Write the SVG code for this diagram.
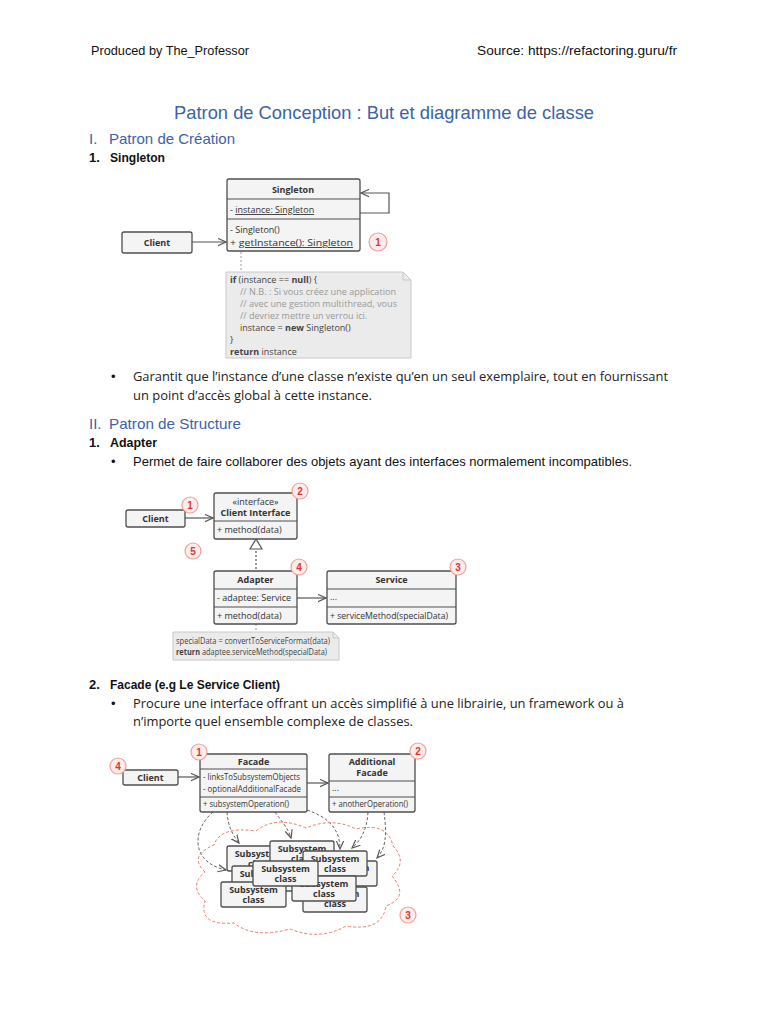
<svg xmlns="http://www.w3.org/2000/svg" width="768" height="1024" viewBox="0 0 768 1024">
<style>
.doc{font-family:"Liberation Sans",Arial,sans-serif;fill:#111}
.body{font-family:"Open Sans","Noto Sans",sans-serif;font-size:13px;fill:#222}
.blue{font-family:"Liberation Sans",Arial,sans-serif;fill:#3B63A8}
.b{font-weight:bold}
.box{fill:#f4f4f4;stroke:#4f4f4f;stroke-width:1.3}
.div{stroke:#4f4f4f;stroke-width:1.1}
.t{font-family:"Open Sans","Noto Sans",sans-serif;font-size:9px;fill:#333}
.th{font-family:"Open Sans","Noto Sans",sans-serif;font-size:9px;font-weight:bold;fill:#333}
.note{fill:#ebebeb;stroke:#c8c8c8;stroke-width:1}
.nt{font-family:"Open Sans","Noto Sans",sans-serif;font-size:9px;fill:#444}
.cm{fill:#999}
.con{fill:none;stroke:#555;stroke-width:1.2}
.dash{fill:none;stroke:#666;stroke-width:1;stroke-dasharray:3,2}
.dot{fill:none;stroke:#999;stroke-width:1;stroke-dasharray:2,2}
.badge circle{fill:#fdeceb;stroke:#f0a095;stroke-width:1.2}
.badge text{font-family:"Liberation Sans",Arial,sans-serif;font-size:10px;font-weight:bold;fill:#d63a2e;text-anchor:middle}
</style>
<defs>
<marker id="open" viewBox="0 0 10 10" refX="9" refY="5" markerWidth="9" markerHeight="9" markerUnits="userSpaceOnUse" orient="auto">
<path d="M0,1 L9,5 L0,9" fill="none" stroke="#555" stroke-width="1.3"/>
</marker>
</defs>
<rect width="768" height="1024" fill="#ffffff"/>

<!-- page text -->
<g id="page-text">
<text class="doc" x="91" y="55" font-size="13" textLength="158" lengthAdjust="spacingAndGlyphs">Produced by The_Professor</text>
<text class="doc" x="477" y="55" font-size="13" textLength="200" lengthAdjust="spacingAndGlyphs">Source: https://refactoring.guru/fr</text>
<text class="blue" x="174" y="119" font-size="19" textLength="420" lengthAdjust="spacingAndGlyphs">Patron de Conception : But et diagramme de classe</text>
<text class="blue" x="89" y="144" font-size="15">I.</text>
<text class="blue" x="109" y="144" font-size="15" textLength="126" lengthAdjust="spacingAndGlyphs">Patron de Création</text>
<text class="doc b" x="89" y="162" font-size="13">1.</text>
<text class="doc b" x="110" y="162" font-size="13" textLength="55" lengthAdjust="spacingAndGlyphs">Singleton</text>
<text class="doc" x="111" y="381" font-size="13">•</text>
<text class="body" x="133" y="381" textLength="535" lengthAdjust="spacingAndGlyphs">Garantit que l’instance d’une classe n’existe qu’en un seul exemplaire, tout en fournissant</text>
<text class="body" x="133" y="400" textLength="239" lengthAdjust="spacingAndGlyphs">un point d’accès global à cette instance.</text>
<text class="blue" x="89" y="429" font-size="15">II.</text>
<text class="blue" x="109" y="429" font-size="15" textLength="132" lengthAdjust="spacingAndGlyphs">Patron de Structure</text>
<text class="doc b" x="89" y="447" font-size="13">1.</text>
<text class="doc b" x="110" y="447" font-size="13" textLength="47" lengthAdjust="spacingAndGlyphs">Adapter</text>
<text class="doc" x="111" y="466" font-size="13">•</text>
<text class="doc" x="133" y="466" font-size="13" textLength="499" lengthAdjust="spacingAndGlyphs">Permet de faire collaborer des objets ayant des interfaces normalement incompatibles.</text>
<text class="doc b" x="89" y="689" font-size="13">2.</text>
<text class="doc b" x="110" y="689" font-size="13" textLength="170" lengthAdjust="spacingAndGlyphs">Facade (e.g Le Service Client)</text>
<text class="doc" x="111" y="708" font-size="13">•</text>
<text class="body" x="133" y="708" textLength="491" lengthAdjust="spacingAndGlyphs">Procure une interface offrant un accès simplifié à une librairie, un framework ou à</text>
<text class="body" x="133" y="726" textLength="280" lengthAdjust="spacingAndGlyphs">n’importe quel ensemble complexe de classes.</text>
</g>

<!-- connectors -->
<g id="connectors">
<path class="con" d="M192,242 L226,242" marker-end="url(#open)"/>
<path class="con" d="M360,213 L389,213 L389,193 L361,193" marker-end="url(#open)"/>
<path class="dot" d="M241,252 L241,272"/>
<path class="con" d="M185,518 L213,518" marker-end="url(#open)"/>
<path d="M256,551 L256,571" fill="none" stroke="#555" stroke-width="1.2" stroke-dasharray="2,2"/>
<path d="M256,539 L250,549 L262,549 Z" fill="#fff" stroke="#555" stroke-width="1.2"/>
<path class="con" d="M297,598 L326,598" marker-end="url(#open)"/>
<path class="dot" d="M256,624 L256,632"/>
<path class="con" d="M178,777 L199,777" marker-end="url(#open)"/>
<path class="con" d="M307,783 L328,783" marker-end="url(#open)"/>
<path class="dash" d="M213,812 C192,830 190,862 226,870" marker-end="url(#open)"/>
<path class="dash" d="M227,812 C228,826 232,834 239,843" marker-end="url(#open)"/>
<path class="dash" d="M275,812 C282,822 288,828 291,838" marker-end="url(#open)"/>
<path class="dash" d="M307,810 C330,818 340,830 340,849" marker-end="url(#open)"/>
<path class="dash" d="M368,812 C367,830 361,840 352,848" marker-end="url(#open)"/>
<path class="dash" d="M384,812 C387,835 386,848 377,858" marker-end="url(#open)"/>
</g>

<!-- Singleton diagram -->
<g id="singleton-client">
<rect class="box" x="122" y="232" width="70" height="21" rx="2"/>
<text class="th" x="157" y="246" text-anchor="middle" font-size="10.3">Client</text>
</g>
<g id="singleton">
<rect class="box" x="227" y="179" width="133" height="72" rx="2"/>
<line class="div" x1="227" y1="199" x2="360" y2="199"/>
<line class="div" x1="227" y1="219" x2="360" y2="219"/>
<text class="th" x="293" y="193" text-anchor="middle" font-size="10.3">Singleton</text>
<text class="t" x="230" y="213" font-size="10.3">- <tspan text-decoration="underline">instance: Singleton</tspan></text>
<text class="t" x="230" y="233" font-size="10.3">- Singleton()</text>
<text class="t" x="230" y="246" font-size="10.3" textLength="123" lengthAdjust="spacingAndGlyphs">+ <tspan text-decoration="underline">getInstance(): Singleton</tspan></text>
</g>
<g id="badge-s1" class="badge"><circle cx="378" cy="242" r="9"/><text x="378" y="246">1</text></g>
<g id="singleton-note">
<path class="note" d="M226,272 L403,272 L411,280 L411,358 L226,358 Z"/>
<path d="M403,272 L403,280 L411,280" fill="none" stroke="#c8c8c8"/>
<text class="nt" x="230" y="283"><tspan class="b">if</tspan> (instance == <tspan class="b">null</tspan>) {</text>
<text class="nt cm" x="240" y="295" textLength="156" lengthAdjust="spacingAndGlyphs">// N.B. : Si vous créez une application</text>
<text class="nt cm" x="240" y="307" textLength="157" lengthAdjust="spacingAndGlyphs">// avec une gestion multithread, vous</text>
<text class="nt cm" x="240" y="319">// devriez mettre un verrou ici.</text>
<text class="nt" x="240" y="331">instance = <tspan class="b">new</tspan> Singleton()</text>
<text class="nt" x="230" y="343">}</text>
<text class="nt" x="230" y="355"><tspan class="b">return</tspan> instance</text>
</g>

<!-- Adapter diagram -->
<g id="adapter-client">
<rect class="box" x="126" y="510" width="59" height="17" rx="2"/>
<text class="th" x="155.5" y="522" text-anchor="middle" font-size="8.5">Client</text>
</g>
<g id="client-interface">
<rect class="box" x="214" y="493" width="83" height="46" rx="2"/>
<line class="div" x1="214" y1="521" x2="297" y2="521"/>
<text class="t" x="255.5" y="505" text-anchor="middle" font-size="8.5">«interface»</text>
<text class="th" x="255.5" y="516" text-anchor="middle" font-size="8.5">Client Interface</text>
<text class="t" x="217" y="533" font-size="8.5">+ method(data)</text>
</g>
<g id="adapter">
<rect class="box" x="214" y="571" width="83" height="53" rx="2"/>
<line class="div" x1="214" y1="589" x2="297" y2="589"/>
<line class="div" x1="214" y1="607" x2="297" y2="607"/>
<text class="th" x="255.5" y="583" text-anchor="middle" font-size="8.5">Adapter</text>
<text class="t" x="217" y="601" font-size="8.5">- adaptee: Service</text>
<text class="t" x="217" y="619" font-size="8.5">+ method(data)</text>
</g>
<g id="service">
<rect class="box" x="327" y="571" width="129" height="53" rx="2"/>
<line class="div" x1="327" y1="589" x2="456" y2="589"/>
<line class="div" x1="327" y1="607" x2="456" y2="607"/>
<text class="th" x="391.5" y="583" text-anchor="middle" font-size="8.5">Service</text>
<text class="t" x="330" y="600" font-size="8.5">...</text>
<text class="t" x="330" y="619" font-size="8.5" textLength="118" lengthAdjust="spacingAndGlyphs">+ serviceMethod(specialData)</text>
</g>
<g id="adapter-note">
<path class="note" d="M173,632 L333,632 L339,638 L339,660 L173,660 Z"/>
<path d="M333,632 L333,638 L339,638" fill="none" stroke="#c8c8c8"/>
<text class="nt" x="176" y="644" font-size="7.8" textLength="154" lengthAdjust="spacingAndGlyphs">specialData = convertToServiceFormat(data)</text>
<text class="nt" x="176" y="655" font-size="7.8" textLength="151" lengthAdjust="spacingAndGlyphs"><tspan class="b">return</tspan> adaptee.serviceMethod(specialData)</text>
</g>
<g id="badge-a1" class="badge"><circle cx="190" cy="505" r="8"/><text x="190" y="509">1</text></g>
<g id="badge-a2" class="badge"><circle cx="300" cy="491" r="8"/><text x="300" y="495">2</text></g>
<g id="badge-a3" class="badge"><circle cx="458" cy="567" r="8"/><text x="458" y="571">3</text></g>
<g id="badge-a4" class="badge"><circle cx="299" cy="567" r="8"/><text x="299" y="571">4</text></g>
<g id="badge-a5" class="badge"><circle cx="193" cy="551" r="8"/><text x="193" y="555">5</text></g>

<!-- Facade diagram -->
<g id="subsystem-cloud">
<path d="M205,872 Q188,856 214,845 Q220,826 256,831 Q276,815 306,828 Q332,817 356,829 Q388,822 393,846 Q408,862 392,876 Q410,897 386,906 Q382,932 346,926 Q320,941 290,929 Q254,939 234,923 Q198,926 205,901 Q188,886 205,872 Z" fill="none" stroke="#ec7b6e" stroke-width="1" stroke-dasharray="3,2"/>
</g>
<g id="facade-client">
<rect class="box" x="123" y="770" width="55" height="15" rx="2"/>
<text class="th" x="150.5" y="781" text-anchor="middle" font-size="8">Client</text>
</g>
<g id="facade">
<rect class="box" x="200" y="754" width="107" height="58" rx="2"/>
<line class="div" x1="200" y1="769" x2="307" y2="769"/>
<line class="div" x1="200" y1="797" x2="307" y2="797"/>
<text class="th" x="253.5" y="765" text-anchor="middle" font-size="8">Facade</text>
<text class="t" x="203" y="780" font-size="8" textLength="97" lengthAdjust="spacingAndGlyphs">- linksToSubsystemObjects</text>
<text class="t" x="203" y="792" font-size="8" textLength="98" lengthAdjust="spacingAndGlyphs">- optionalAdditionalFacade</text>
<text class="t" x="203" y="807" font-size="8" textLength="86" lengthAdjust="spacingAndGlyphs">+ subsystemOperation()</text>
</g>
<g id="additional-facade">
<rect class="box" x="329" y="754" width="86" height="58" rx="2"/>
<line class="div" x1="329" y1="781" x2="415" y2="781"/>
<line class="div" x1="329" y1="797" x2="415" y2="797"/>
<text class="th" x="372" y="765" text-anchor="middle" font-size="8">Additional</text>
<text class="th" x="372" y="776" text-anchor="middle" font-size="8">Facade</text>
<text class="t" x="332" y="791" font-size="8">...</text>
<text class="t" x="332" y="807" font-size="8" textLength="76" lengthAdjust="spacingAndGlyphs">+ anotherOperation()</text>
</g>
<g id="subsystems">
<g id="sub1"><rect class="box" x="303" y="887" width="64" height="25" rx="2"/><text class="th" x="335" y="897" text-anchor="middle" font-size="8">Subsystem</text><text class="th" x="335" y="907" text-anchor="middle" font-size="8">class</text></g>
<g id="sub2"><rect class="box" x="313" y="861" width="64" height="25" rx="2"/><text class="th" x="345" y="871" text-anchor="middle" font-size="8">Subsystem</text><text class="th" x="345" y="881" text-anchor="middle" font-size="8">class</text></g>
<g id="sub3"><rect class="box" x="227" y="846" width="64" height="25" rx="2"/><text class="th" x="259" y="857" text-anchor="middle" font-size="8">Subsystem</text><text class="th" x="259" y="867" text-anchor="middle" font-size="8">class</text></g>
<g id="sub4"><rect class="box" x="232" y="866" width="64" height="25" rx="2"/><text class="th" x="264" y="877" text-anchor="middle" font-size="8">Subsystem</text><text class="th" x="264" y="887" text-anchor="middle" font-size="8">class</text></g>
<g id="sub5"><rect class="box" x="270" y="841" width="64" height="25" rx="2"/><text class="th" x="302" y="852" text-anchor="middle" font-size="8">Subsystem</text><text class="th" x="302" y="862" text-anchor="middle" font-size="8">class</text></g>
<g id="sub6"><rect class="box" x="303" y="851" width="64" height="25" rx="2"/><text class="th" x="335" y="862" text-anchor="middle" font-size="8">Subsystem</text><text class="th" x="335" y="872" text-anchor="middle" font-size="8">class</text></g>
<g id="sub7"><rect class="box" x="292" y="876" width="64" height="25" rx="2"/><text class="th" x="324" y="887" text-anchor="middle" font-size="8">Subsystem</text><text class="th" x="324" y="897" text-anchor="middle" font-size="8">class</text></g>
<g id="sub8"><rect class="box" x="221" y="882" width="65" height="25" rx="2"/><text class="th" x="253.5" y="893" text-anchor="middle" font-size="8">Subsystem</text><text class="th" x="253.5" y="903" text-anchor="middle" font-size="8">class</text></g>
<g id="sub9"><rect class="box" x="253" y="861" width="65" height="25" rx="2"/><text class="th" x="285.5" y="872" text-anchor="middle" font-size="8">Subsystem</text><text class="th" x="285.5" y="882" text-anchor="middle" font-size="8">class</text></g>
</g>
<g id="badge-f1" class="badge"><circle cx="199" cy="752" r="8"/><text x="199" y="756">1</text></g>
<g id="badge-f2" class="badge"><circle cx="418" cy="751" r="8"/><text x="418" y="755">2</text></g>
<g id="badge-f3" class="badge"><circle cx="408" cy="915" r="8"/><text x="408" y="919">3</text></g>
<g id="badge-f4" class="badge"><circle cx="118" cy="766" r="8"/><text x="118" y="770">4</text></g>
</svg>
